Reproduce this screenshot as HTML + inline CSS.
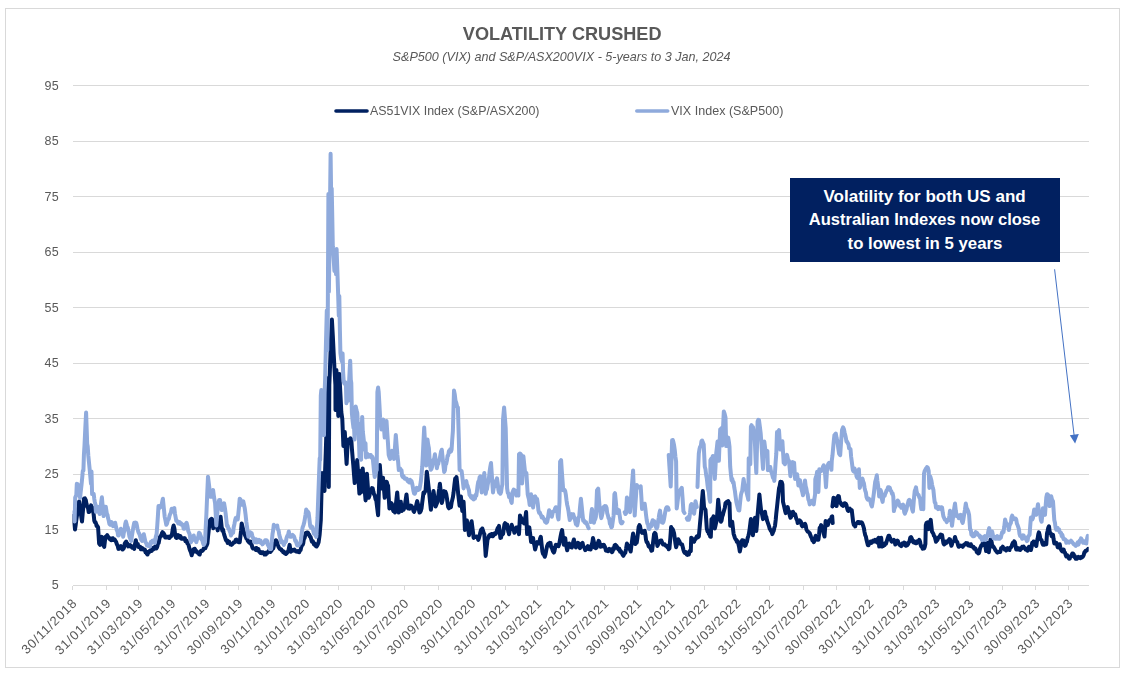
<!DOCTYPE html>
<html><head><meta charset="utf-8"><title>Volatility Crushed</title>
<style>
html,body{margin:0;padding:0;background:#fff;}
body{width:1125px;height:673px;position:relative;overflow:hidden;font-family:"Liberation Sans",sans-serif;color:#595959;}
#frame{position:absolute;left:5px;top:8px;width:1113px;height:658px;border:1px solid #d9d9d9;box-sizing:content-box;}
svg{position:absolute;left:0;top:0;}
.yl{position:absolute;left:10px;width:49.3px;text-align:right;font-size:12.5px;line-height:16px;height:16px;letter-spacing:0.5px;margin-top:0px;}
.xl{position:absolute;top:593.7px;font-size:13px;letter-spacing:0.8px;line-height:14px;white-space:nowrap;transform-origin:100% 50%;transform:translate(-100%,0) rotate(-45deg);margin-left:2px;}
#title{position:absolute;left:0;width:1125px;top:22px;text-align:center;font-weight:bold;font-size:19px;line-height:24px;}
#title span{display:inline-block;transform:scaleX(0.954);}
#sub{position:absolute;left:0;width:1123px;top:49px;text-align:center;font-style:italic;font-size:12.2px;line-height:16px;}
#sub span{display:inline-block;transform:scaleX(1.033);}
.lg{position:absolute;top:103px;font-size:12.4px;line-height:16px;white-space:nowrap;}
.lg span{display:inline-block;transform-origin:0 50%;}
#box{position:absolute;left:789.8px;top:178.2px;width:270.4px;height:84.2px;background:#002060;color:#fff;font-weight:bold;text-align:center;font-size:16.8px;line-height:23.3px;padding-top:6.8px;box-sizing:border-box;}
#box span{display:inline-block;white-space:nowrap;}#b1{transform:scaleX(1.016);}#b2{transform:scaleX(0.985);}
</style></head><body>
<div id="frame"></div>
<svg width="1125" height="673" viewBox="0 0 1125 673">
<defs><clipPath id="pc"><rect x="72.5" y="80" width="1016.2" height="510"/></clipPath></defs>
<g stroke="#d9d9d9" stroke-width="1" shape-rendering="crispEdges"><line x1="72.5" x2="1088.5" y1="85.5" y2="85.5"/><line x1="72.5" x2="1088.5" y1="141.0" y2="141.0"/><line x1="72.5" x2="1088.5" y1="196.5" y2="196.5"/><line x1="72.5" x2="1088.5" y1="252.0" y2="252.0"/><line x1="72.5" x2="1088.5" y1="307.5" y2="307.5"/><line x1="72.5" x2="1088.5" y1="363.0" y2="363.0"/><line x1="72.5" x2="1088.5" y1="418.5" y2="418.5"/><line x1="72.5" x2="1088.5" y1="474.0" y2="474.0"/><line x1="72.5" x2="1088.5" y1="529.5" y2="529.5"/><line x1="72.5" x2="1088.5" y1="585.0" y2="585.0"/><line x1="72.5" x2="72.5" y1="585.5" y2="589.5"/><line x1="106.5" x2="106.5" y1="585.5" y2="589.5"/><line x1="138.5" x2="138.5" y1="585.5" y2="589.5"/><line x1="171.5" x2="171.5" y1="585.5" y2="589.5"/><line x1="205.5" x2="205.5" y1="585.5" y2="589.5"/><line x1="238.5" x2="238.5" y1="585.5" y2="589.5"/><line x1="271.5" x2="271.5" y1="585.5" y2="589.5"/><line x1="305.5" x2="305.5" y1="585.5" y2="589.5"/><line x1="338.5" x2="338.5" y1="585.5" y2="589.5"/><line x1="371.5" x2="371.5" y1="585.5" y2="589.5"/><line x1="404.5" x2="404.5" y1="585.5" y2="589.5"/><line x1="438.5" x2="438.5" y1="585.5" y2="589.5"/><line x1="471.5" x2="471.5" y1="585.5" y2="589.5"/><line x1="505.5" x2="505.5" y1="585.5" y2="589.5"/><line x1="537.5" x2="537.5" y1="585.5" y2="589.5"/><line x1="570.5" x2="570.5" y1="585.5" y2="589.5"/><line x1="604.5" x2="604.5" y1="585.5" y2="589.5"/><line x1="637.5" x2="637.5" y1="585.5" y2="589.5"/><line x1="670.5" x2="670.5" y1="585.5" y2="589.5"/><line x1="704.5" x2="704.5" y1="585.5" y2="589.5"/><line x1="736.5" x2="736.5" y1="585.5" y2="589.5"/><line x1="769.5" x2="769.5" y1="585.5" y2="589.5"/><line x1="803.5" x2="803.5" y1="585.5" y2="589.5"/><line x1="836.5" x2="836.5" y1="585.5" y2="589.5"/><line x1="869.5" x2="869.5" y1="585.5" y2="589.5"/><line x1="903.5" x2="903.5" y1="585.5" y2="589.5"/><line x1="935.5" x2="935.5" y1="585.5" y2="589.5"/><line x1="969.5" x2="969.5" y1="585.5" y2="589.5"/><line x1="1002.5" x2="1002.5" y1="585.5" y2="589.5"/><line x1="1035.5" x2="1035.5" y1="585.5" y2="589.5"/><line x1="1068.5" x2="1068.5" y1="585.5" y2="589.5"/></g>
<g clip-path="url(#pc)">
<path d="M72.9,516.1L73.6,520.5L74.3,525.1L75.0,529.5L75.6,525.4L76.3,520.1L77.0,515.5L77.7,510.9L78.4,505.7L79.1,501.4L79.8,506.4L80.6,511.6L81.3,516.9L82.0,521.5L82.7,513.3L83.4,506.0L84.0,498.7L84.9,498.3L85.8,500.1L86.5,504.0L87.2,506.6L88.0,507.8L88.7,512.1L89.3,511.8L89.9,510.1L90.5,507.5L91.1,505.4L91.7,507.3L92.4,507.6L93.0,510.1L93.7,514.8L94.3,520.8L94.9,522.2L95.5,522.2L96.1,523.9L96.7,526.1L97.4,526.1L98.1,527.5L99.1,543.5L100.1,544.9L100.9,539.5L101.8,536.8L102.4,539.2L103.0,541.7L103.6,545.3L104.2,546.9L104.8,541.9L105.4,536.8L106.3,536.4L107.2,535.2L107.9,536.3L108.6,537.8L109.4,538.3L110.1,539.5L110.8,538.6L111.4,540.2L112.1,539.9L112.8,538.2L113.4,539.8L114.1,540.1L114.8,539.7L115.5,540.9L116.2,542.1L116.9,544.3L117.7,545.7L118.4,548.9L119.2,548.7L120.0,546.8L120.8,546.2L121.4,547.8L122.0,547.2L122.6,549.5L123.2,548.9L123.9,548.0L124.7,543.8L125.4,542.5L126.2,541.5L126.8,543.8L127.5,543.8L128.2,546.4L128.8,546.2L129.5,545.9L130.2,545.0L130.8,546.6L131.5,546.2L132.2,547.6L132.8,546.9L133.5,547.1L134.2,548.9L135.0,544.1L135.8,540.2L136.4,543.2L137.1,544.3L137.8,544.1L138.4,546.9L139.1,546.6L139.7,546.6L140.3,546.8L140.9,549.3L141.5,548.9L142.2,548.1L142.9,549.4L143.5,549.2L144.2,549.5L144.9,549.7L145.5,552.2L146.2,551.5L146.9,553.9L147.5,554.5L148.2,552.6L148.9,552.6L149.5,551.1L150.2,550.4L150.9,550.2L151.5,551.0L152.2,550.0L152.9,548.1L153.6,549.2L154.2,547.5L154.9,546.7L155.6,547.2L156.2,548.5L156.9,547.5L157.5,545.9L158.1,542.4L158.7,542.9L159.3,539.5L159.9,537.2L160.6,535.9L161.2,535.9L161.9,533.2L162.5,532.2L163.2,532.9L163.8,533.6L164.5,535.0L165.2,537.5L165.8,537.6L166.4,536.6L167.1,537.5L167.7,536.7L168.3,536.8L168.9,536.8L169.5,538.0L170.1,536.5L170.7,536.6L171.3,536.2L172.1,533.6L172.9,528.2L173.6,525.5L174.4,528.5L175.1,534.6L175.9,537.5L176.6,537.9L177.2,535.8L177.9,535.1L178.6,535.5L179.2,536.6L179.8,537.6L180.4,536.0L181.1,538.6L181.7,538.8L182.3,538.2L182.9,538.8L183.5,538.6L184.2,538.1L184.8,538.2L185.4,541.2L186.0,540.2L186.7,540.8L187.4,543.4L188.1,543.5L188.7,545.5L189.5,548.9L190.2,550.7L190.9,552.3L191.7,555.3L192.3,552.8L192.9,552.7L193.5,549.3L194.1,548.9L194.8,548.8L195.6,550.4L196.3,550.9L197.0,552.6L197.7,552.7L198.3,552.6L199.0,554.0L199.7,554.5L200.3,551.9L201.0,550.8L201.7,550.8L202.3,550.9L203.1,550.1L203.8,548.3L204.6,548.0L205.3,548.2L206.0,546.3L206.7,545.3L207.4,543.5L208.0,537.0L208.6,531.5L209.7,520.8L210.4,519.7L211.0,520.6L211.7,518.8L212.5,524.8L213.3,528.2L214.0,524.4L214.7,520.1L215.3,522.7L215.9,524.5L216.5,525.3L217.1,527.1L217.7,530.4L217.7,530.2L218.4,525.5L219.1,524.6L219.9,520.7L220.6,516.8L221.7,527.5L222.3,530.6L223.0,529.7L223.7,532.8L224.4,535.4L225.0,537.2L225.7,539.5L226.4,540.8L227.0,540.3L227.7,542.9L228.4,542.2L229.0,541.5L229.7,543.3L230.4,544.4L231.0,544.2L231.7,544.8L232.4,543.9L233.1,543.3L233.7,542.2L234.4,542.3L235.1,542.0L235.7,539.8L236.4,539.5L237.1,540.6L237.7,541.7L238.4,542.2L239.1,541.4L239.7,542.2L240.4,536.4L241.1,530.2L241.7,523.5L242.5,527.0L243.3,530.2L243.9,532.2L244.5,533.2L245.1,535.4L245.8,536.8L246.4,538.5L247.1,538.3L247.8,540.9L248.4,541.4L249.1,542.6L249.8,542.4L250.4,541.5L251.1,544.2L251.8,545.2L252.4,547.5L253.1,548.5L253.8,548.4L254.4,548.4L255.1,548.9L255.8,550.0L256.4,548.0L257.1,550.1L257.8,549.5L258.4,549.1L259.1,551.5L259.8,552.0L260.4,552.9L261.1,552.0L261.8,553.1L262.5,552.4L263.1,552.2L263.8,553.1L264.5,554.5L265.1,553.2L265.8,554.5L266.5,552.4L267.1,552.5L267.8,552.8L268.5,551.5L269.1,550.4L269.8,550.1L270.5,551.9L271.2,550.9L271.8,550.2L272.5,548.7L273.2,548.6L273.8,546.2L274.5,543.7L275.2,542.7L275.8,540.2L276.5,540.9L277.2,543.1L277.8,544.9L278.5,546.7L279.2,548.0L279.8,548.9L280.5,548.9L281.2,549.4L281.8,550.8L282.5,550.9L283.2,552.2L283.9,551.6L284.5,553.1L285.2,553.6L285.9,554.0L286.5,553.5L287.2,552.6L287.9,551.5L288.7,549.5L289.6,544.9L290.7,551.8L291.3,550.9L292.0,550.2L292.6,550.7L293.2,549.9L293.9,550.2L294.5,549.7L295.2,550.6L295.9,551.5L296.6,551.5L297.2,551.8L297.9,551.0L298.6,552.1L299.2,552.2L299.9,550.4L300.6,550.2L301.2,547.2L301.9,545.3L302.6,544.9L303.2,543.5L303.9,538.8L304.6,538.2L305.2,535.4L305.9,532.8L306.6,532.6L307.2,534.3L307.9,532.5L308.6,534.2L309.2,534.5L309.9,536.7L310.6,536.9L311.3,539.5L311.9,541.6L312.6,541.1L313.3,542.0L313.9,544.2L314.6,543.5L315.3,545.7L315.9,545.8L316.6,546.5L317.3,545.4L317.9,544.1L318.6,542.2L319.6,535.0L320.8,520.0L322.0,473.0L322.6,477.9L323.2,482.6L323.9,486.8L324.5,491.0L325.1,470.9L325.8,451.6L326.4,432.0L327.4,405.0L328.3,378.0L328.8,487.0L329.3,385.0L330.0,367.1L330.6,350.0L331.2,334.1L331.9,319.5L332.8,335.7L333.6,352.0L334.5,368.8L335.4,385.0L335.5,410.0L336.4,370.0L337.0,384.9L337.7,400.3L338.3,416.0L339.4,374.0L340.0,386.5L340.7,399.6L341.3,412.0L342.3,419.0L343.4,446.0L344.1,439.0L344.8,432.0L345.4,442.8L346.0,453.7L346.6,464.0L347.8,440.0L348.5,439.6L349.2,440.5L349.9,440.7L350.6,438.3L351.3,439.3L351.9,448.7L352.6,457.2L353.3,465.1L354.0,474.3L354.7,483.1L355.3,477.6L355.9,472.2L356.6,465.7L357.2,460.1L358.0,471.4L358.7,482.9L359.4,493.6L360.0,471.0L361.1,492.4L361.9,480.8L362.7,468.4L363.4,477.0L364.1,484.4L364.9,492.6L365.6,500.4L366.3,486.7L366.9,473.7L367.8,486.1L368.7,497.8L369.4,496.0L370.0,492.8L370.7,489.8L371.4,489.9L372.0,488.1L372.7,488.4L373.4,491.8L374.0,494.2L374.7,495.1L375.5,499.1L376.3,500.4L377.2,507.9L378.1,515.2L378.9,490.5L379.8,465.0L380.6,476.5L381.4,488.4L382.2,483.6L383.0,477.7L383.9,488.3L384.7,497.8L385.4,489.5L386.1,481.7L386.7,481.9L387.4,484.2L388.1,485.8L388.7,497.2L389.4,508.5L390.1,507.4L390.8,504.9L391.4,503.1L392.1,504.5L392.8,509.3L393.4,511.1L394.2,510.6L395.0,512.5L395.7,506.2L396.5,498.7L397.2,492.4L398.0,502.2L398.8,512.5L399.4,509.7L400.1,504.4L400.8,501.8L401.7,511.1L402.3,509.5L402.9,509.9L403.5,509.8L404.1,508.5L404.9,504.8L405.7,499.7L406.5,494.4L407.3,502.1L408.1,508.5L408.8,507.9L409.5,508.7L410.1,505.7L410.8,505.6L411.5,505.8L412.1,507.4L412.8,508.2L413.5,511.0L414.1,511.8L414.8,510.1L415.4,507.6L416.0,506.4L416.6,503.4L417.2,501.1L418.0,504.4L418.7,508.4L419.5,512.5L420.2,512.1L420.8,510.9L421.5,508.5L422.2,502.7L422.8,498.3L423.5,492.4L424.2,493.3L424.8,491.6L425.5,491.1L426.2,481.5L426.8,471.7L427.5,477.3L428.2,483.8L428.9,489.8L429.5,496.4L430.2,503.3L430.9,509.8L431.5,504.5L432.2,501.1L432.9,495.8L433.5,491.1L434.2,496.1L434.9,501.8L435.5,506.5L436.2,505.1L436.9,503.3L437.5,501.8L438.1,497.5L438.7,492.2L439.3,488.3L439.9,483.7L440.6,490.1L441.2,497.3L441.8,503.1L442.5,500.3L443.2,494.5L444.0,491.1L444.7,491.9L445.5,491.8L446.2,493.8L446.9,498.1L447.6,503.1L448.2,507.1L448.9,508.3L449.6,507.1L450.2,506.6L450.9,507.1L451.6,502.6L452.2,500.1L452.9,497.3L453.6,492.4L454.4,484.9L455.2,478.4L455.9,478.5L456.5,477.1L457.4,485.4L458.3,495.1L458.9,500.0L459.6,505.8L460.3,500.7L460.9,496.4L461.6,504.1L462.3,511.1L462.9,506.2L463.6,501.8L464.3,515.6L464.9,529.9L465.6,527.1L466.3,522.5L466.9,520.5L467.6,525.7L468.3,529.8L469.0,535.2L469.6,531.7L470.3,527.5L471.0,523.8L471.6,521.2L472.3,526.8L473.0,532.2L473.6,537.9L474.3,537.2L475.0,537.0L475.6,537.0L476.3,536.5L477.0,536.7L477.6,537.9L478.3,539.9L479.0,537.8L479.7,535.3L480.3,532.5L481.0,529.9L481.7,530.2L482.3,528.5L483.0,530.6L483.7,533.1L484.3,533.9L485.0,544.5L485.7,555.9L486.3,550.3L487.0,544.3L487.7,537.9L488.3,538.2L489.0,535.7L489.7,534.9L490.4,534.5L491.0,535.9L491.7,534.0L492.4,536.3L493.0,536.2L493.7,535.2L494.4,533.5L495.0,533.1L495.7,533.8L496.4,532.5L497.0,530.2L497.7,528.1L498.4,528.5L499.0,525.9L499.7,531.8L500.4,537.9L501.0,537.7L501.7,534.8L502.4,534.6L503.1,533.9L503.7,529.5L504.4,524.5L505.1,523.2L505.7,523.7L506.4,525.0L507.1,524.5L507.7,528.8L508.4,532.1L509.1,533.9L509.0,534.1L509.7,530.7L510.3,529.5L511.0,527.8L511.7,524.8L512.4,526.8L513.0,529.3L513.7,529.9L514.4,532.8L515.0,530.2L515.7,529.0L516.4,527.5L517.0,527.4L517.7,529.8L518.4,531.9L519.0,534.1L520.0,515.4L520.6,517.3L521.2,517.8L521.8,519.5L522.4,522.1L523.2,521.9L524.0,523.4L524.7,520.6L525.4,517.2L526.1,512.1L527.1,534.1L527.8,533.1L528.6,528.5L529.3,527.4L530.2,534.2L531.1,542.1L531.7,542.1L532.4,539.4L533.1,538.1L533.7,542.7L534.4,545.2L535.1,549.5L535.8,546.9L536.4,544.6L537.1,542.1L537.8,542.4L538.4,543.3L539.1,543.5L540.0,538.8L540.8,536.8L541.6,544.4L542.4,551.5L543.0,553.8L543.6,553.3L544.2,555.4L544.8,556.8L545.6,553.9L546.4,549.4L547.1,546.1L547.8,544.5L548.5,543.5L549.1,543.7L549.8,542.8L550.5,543.0L551.1,547.0L551.8,547.5L552.5,550.0L553.1,551.4L553.8,552.6L554.5,551.0L555.1,547.8L555.8,544.8L556.5,544.9L557.1,545.8L557.8,545.8L558.5,546.1L559.1,544.4L559.8,540.8L560.5,536.8L561.3,532.8L562.1,530.1L563.0,538.0L563.8,544.8L564.5,542.2L565.2,538.1L565.8,542.9L566.5,547.0L567.2,550.2L567.8,547.7L568.5,546.8L569.2,543.5L569.8,545.5L570.5,546.0L571.2,547.2L571.8,547.5L572.5,545.6L573.2,541.9L573.9,539.5L574.5,542.8L575.2,543.6L575.9,547.5L576.5,545.5L577.2,544.3L577.9,542.8L578.5,543.2L579.2,546.0L579.9,548.2L580.5,547.2L581.2,545.8L581.9,543.4L582.5,542.8L583.2,545.9L583.9,547.0L584.5,547.9L585.2,550.2L585.9,549.6L586.5,548.3L587.2,547.2L587.9,546.1L588.6,546.7L589.2,549.2L589.9,549.1L590.6,549.5L591.2,547.2L591.8,544.5L592.4,542.3L593.0,538.1L593.8,541.5L594.6,547.5L595.2,547.8L595.9,548.2L596.6,547.5L597.2,544.6L597.9,542.8L598.6,540.8L599.2,541.5L599.9,544.0L600.6,546.8L601.3,546.1L601.9,544.9L602.6,544.9L603.3,546.3L603.9,544.8L604.6,546.5L605.3,547.8L605.9,550.6L606.6,550.8L607.3,550.5L607.9,551.2L608.6,549.7L609.3,548.8L609.9,550.5L610.6,549.3L611.3,551.6L612.0,552.2L612.6,551.4L613.3,548.0L614.0,549.0L614.6,545.3L615.3,544.8L616.0,545.7L616.6,545.9L617.3,547.8L618.0,548.8L618.6,549.6L619.3,548.6L620.0,551.6L620.6,550.8L621.3,551.8L622.0,553.4L622.7,554.8L623.3,555.8L624.0,554.4L624.7,553.2L625.3,552.8L626.1,548.6L626.9,543.5L627.5,545.0L628.1,545.5L628.7,548.1L629.3,548.8L630.0,549.6L630.7,551.5L631.3,546.3L631.9,542.1L632.5,537.3L633.1,533.5L633.9,538.0L634.7,543.5L635.3,544.0L636.0,542.7L636.7,542.8L637.4,538.0L638.0,532.5L638.7,526.8L639.4,525.2L640.0,526.1L640.7,529.7L641.4,531.8L642.0,532.8L642.7,531.1L643.4,532.9L644.0,531.1L644.7,530.8L645.4,534.5L646.0,539.7L646.7,542.1L647.4,542.4L648.0,544.2L648.7,546.4L649.4,546.1L650.1,547.8L650.7,548.2L651.4,550.7L652.1,550.4L652.7,545.4L653.4,539.7L654.1,534.1L654.8,532.9L655.6,533.8L656.5,540.0L657.4,545.9L658.0,544.7L658.7,542.9L659.4,541.4L660.0,541.7L660.7,540.5L661.4,540.5L662.0,542.4L662.7,544.0L663.4,544.5L664.0,544.7L664.7,544.4L665.4,545.6L666.0,545.4L666.7,545.9L667.4,547.3L668.0,547.3L668.7,549.3L669.4,548.5L670.3,538.5L671.1,527.1L671.9,529.1L672.6,529.1L673.4,531.1L674.1,533.4L674.7,537.8L675.4,543.1L676.1,547.2L676.7,545.3L677.4,542.2L678.1,539.2L678.7,540.1L679.4,541.2L680.1,543.2L680.8,544.1L681.4,544.3L682.1,544.5L682.8,547.2L683.4,549.8L684.1,551.9L684.8,553.0L685.4,551.8L686.1,552.3L686.8,554.7L687.4,554.9L688.1,554.1L688.8,554.5L689.4,551.4L690.1,550.7L690.8,551.2L691.2,537.8L691.9,538.2L692.6,539.6L693.4,541.2L694.1,541.8L694.8,539.4L695.5,539.3L696.1,537.8L696.8,536.3L697.5,536.0L698.1,537.3L698.8,536.5L699.5,529.4L700.1,522.4L700.8,515.1L701.5,506.9L702.1,499.0L702.8,491.0L703.5,499.3L704.1,508.4L704.8,508.7L705.5,509.8L706.2,519.5L706.8,528.5L707.5,531.2L708.2,530.8L708.8,533.8L709.5,533.7L710.2,536.6L710.8,536.8L711.5,519.1L712.2,518.6L712.8,518.1L713.5,516.4L714.2,522.1L714.8,528.5L715.5,525.6L716.2,522.4L716.8,520.5L717.5,510.5L718.2,499.7L718.8,505.9L719.5,512.4L720.2,517.3L720.9,521.8L721.5,520.8L722.2,516.6L722.9,514.9L723.5,512.4L724.2,510.0L724.9,507.4L725.5,503.1L726.2,502.4L726.9,501.8L727.5,501.7L728.2,501.1L728.9,503.7L729.5,503.1L730.2,525.8L730.9,523.3L731.6,522.0L732.2,521.8L732.9,527.9L733.6,533.8L734.2,535.6L734.9,537.9L735.6,539.2L736.2,539.6L736.9,541.9L737.6,541.0L738.2,543.2L739.0,546.5L739.8,551.5L740.7,547.1L741.6,541.8L742.2,540.2L742.9,540.4L743.6,540.5L744.2,543.8L744.9,545.9L745.6,545.1L746.3,542.6L746.9,541.8L747.6,538.2L748.3,536.1L748.9,533.8L749.6,529.2L750.3,523.8L750.9,519.1L751.6,523.9L752.3,530.1L752.9,535.2L753.6,529.5L754.3,524.2L755.0,517.8L755.6,525.1L756.3,531.1L757.0,523.7L757.6,515.1L758.5,504.7L759.4,494.4L760.2,502.5L761.0,509.8L761.6,512.3L762.3,515.5L763.0,519.1L763.6,516.4L764.3,515.4L765.0,511.8L765.6,515.8L766.3,516.8L767.0,520.5L767.6,522.1L768.3,524.1L769.0,526.1L769.6,528.5L770.3,529.6L771.0,531.0L771.7,531.8L772.3,534.1L773.0,532.2L773.7,530.8L774.3,528.0L775.0,525.8L775.7,520.0L776.3,513.4L777.0,507.1L777.7,500.4L778.3,495.0L779.0,488.4L779.7,486.1L780.4,481.7L781.0,482.0L781.7,482.1L782.4,484.4L783.0,501.7L783.7,504.6L784.4,507.5L785.0,510.4L785.7,513.1L786.4,512.4L787.0,509.5L787.7,507.1L788.4,510.6L789.0,511.2L789.7,515.2L790.4,517.8L791.0,517.1L791.7,513.6L792.4,512.1L793.0,511.8L793.7,513.6L794.4,515.2L795.1,514.1L795.7,516.4L796.4,519.0L797.1,519.9L797.7,523.1L797.7,521.1L798.3,521.8L799.0,521.5L799.7,520.4L800.4,521.1L801.0,522.1L801.7,525.4L802.4,526.4L803.0,525.8L803.7,525.8L804.4,524.1L805.0,523.8L805.7,525.5L806.4,529.5L807.0,530.5L807.7,531.6L808.4,531.8L809.0,532.6L809.7,533.1L810.4,535.3L811.0,536.8L811.7,537.8L812.4,540.4L813.1,540.5L813.7,542.2L814.4,541.0L815.1,538.4L815.7,535.8L816.4,537.8L817.1,538.7L817.7,539.7L818.4,539.8L819.1,534.3L819.7,527.8L820.4,527.7L821.1,525.1L821.7,527.3L822.4,528.7L823.1,530.5L823.8,534.0L824.5,536.5L825.6,521.1L826.3,523.3L827.0,523.6L827.8,525.1L828.4,523.1L829.1,520.6L829.8,519.8L830.4,519.6L831.0,519.5L831.6,516.9L832.2,516.4L832.7,523.1M832.4,506.4L833.5,497.8L834.6,505.1L835.5,498.4L836.6,506.1L837.6,497.3L838.2,496.0L838.9,496.5L839.8,502.4L840.5,502.4L841.1,503.9L841.8,505.1L842.5,504.2L843.1,505.9L843.8,504.4L844.5,503.3L845.1,504.2L845.8,503.8L846.5,505.1L847.1,508.1L847.8,510.4L848.5,511.0L849.1,509.2L849.8,508.7L850.5,509.7L851.2,509.9L851.8,510.4L852.5,516.5L853.2,522.4L853.8,524.9L854.5,523.8L855.2,526.4L855.8,524.2L856.5,523.3L857.2,523.1L857.8,522.1L858.5,522.0L859.2,523.2L859.8,522.4L860.5,523.0L861.2,522.3L861.8,522.6L862.5,523.8L863.2,525.8L863.9,528.2L864.5,531.8L865.2,535.2L865.9,536.6L866.5,539.8L867.2,542.6L867.9,545.2L868.5,545.2L869.2,543.3L869.9,542.5L870.5,541.5L871.2,542.9L871.9,542.6L872.5,541.1L873.2,540.4L873.9,540.6L874.5,541.4L875.2,539.8L875.9,540.7L876.6,540.8L877.2,542.5L877.9,538.9L878.6,537.8L879.2,546.5L879.9,544.9L880.6,541.6L881.2,537.8L881.9,546.5L882.6,545.8L883.2,545.9L883.9,545.5L884.6,545.2L885.2,543.2L885.9,543.9L886.6,541.6L887.2,539.8L887.9,537.7L888.6,535.8L889.2,535.8L889.9,537.5L890.6,539.0L891.3,541.1L891.9,541.6L892.6,541.1L893.3,540.4L893.9,539.8L894.6,541.2L895.3,544.5L895.9,542.2L896.6,541.3L897.3,540.5L897.9,541.0L898.6,543.9L899.3,544.0L900.0,545.2L900.6,545.3L901.3,546.1L902.0,544.5L902.6,543.2L903.3,543.3L904.0,542.5L904.6,542.6L905.3,545.5L906.0,545.8L906.6,543.6L907.3,545.1L908.0,544.3L908.6,542.5L909.4,541.6L910.2,537.8L911.0,537.1L911.8,538.5L912.6,541.1L913.3,542.3L914.0,541.0L914.7,542.6L915.3,543.2L916.0,542.4L916.7,543.1L917.3,541.1L918.0,540.9L918.7,541.3L919.3,539.8L920.0,541.5L920.7,545.1L921.3,546.5L922.0,546.8L922.7,548.7L923.3,546.9L924.0,548.5L924.7,547.1L925.4,543.8L925.8,525.1L926.5,523.0L927.4,522.4L928.0,525.9L928.7,529.1L929.4,526.1L930.0,521.9L930.7,519.8L931.4,526.2L932.0,531.8L932.7,532.6L933.4,533.9L934.0,535.8L934.7,536.6L935.4,539.3L936.0,541.8L936.7,540.6L937.4,540.2L938.0,538.5L938.7,537.2L939.4,537.2L940.0,535.8L940.7,534.5L941.4,535.1L942.1,535.1L942.7,539.0L943.4,543.2L944.1,544.4L944.7,544.0L945.4,543.4L946.0,541.5L946.7,542.8L947.4,541.6L948.0,541.6L948.7,540.2L949.4,539.1L950.0,539.5L950.7,542.8L951.4,545.8L952.0,544.2L952.7,541.6L953.4,541.5L954.2,540.6L955.0,537.0L955.8,540.1L956.7,541.5L957.4,542.5L958.1,545.4L958.7,546.8L959.4,545.8L960.1,545.6L960.7,545.5L961.4,546.1L962.1,545.8L962.7,546.8L963.4,545.5L964.1,544.8L964.7,544.2L965.4,544.4L966.1,543.0L966.7,543.5L967.4,543.3L968.1,545.5L968.7,545.5L969.4,544.6L970.1,545.9L970.8,544.2L971.4,545.2L972.1,546.6L972.8,546.8L973.4,546.8L974.1,548.6L974.8,548.2L975.4,548.4L976.1,549.8L976.8,552.2L977.4,551.4L978.1,553.4L978.8,553.3L979.4,551.7L980.1,548.1L980.8,546.8L981.4,545.2L982.1,545.1L982.8,542.8L983.4,543.5L984.1,542.6L984.8,544.2L985.5,546.9L986.1,551.1L986.8,546.5L987.5,542.8L988.1,547.0L988.8,552.2L989.7,545.8L990.5,539.6L991.3,540.7L992.1,544.2L992.8,546.7L993.5,546.8L994.1,547.6L994.8,548.9L995.5,550.3L996.1,550.9L996.8,552.1L997.5,552.6L998.2,552.2L998.8,551.8L999.5,551.5L1000.2,551.9L1001.2,547.9L1002.0,547.8L1002.7,546.7L1003.5,548.2L1004.2,548.3L1004.8,549.6L1005.5,549.5L1006.2,550.4L1006.8,549.4L1007.5,548.2L1008.2,549.3L1008.9,549.7L1009.5,550.0L1010.2,547.6L1010.9,547.4L1011.5,546.8L1012.2,544.4L1012.9,542.8L1013.5,543.1L1014.2,541.4L1014.9,542.3L1015.5,545.6L1016.2,549.5L1016.9,549.1L1017.5,549.4L1018.2,548.2L1018.9,549.7L1019.5,549.7L1020.2,550.0L1020.9,548.0L1021.6,548.7L1022.2,546.8L1022.9,547.8L1023.6,546.6L1024.2,547.7L1024.9,548.1L1025.6,549.5L1026.2,549.9L1026.9,549.2L1027.6,550.6L1028.2,549.3L1028.9,546.8L1029.6,549.3L1030.2,549.0L1030.9,550.0L1031.6,547.0L1032.2,542.8L1032.9,543.5L1033.6,541.5L1034.2,542.2L1034.9,544.7L1035.6,545.1L1036.3,546.0L1036.9,541.6L1037.6,538.8L1038.3,534.4L1038.9,532.3L1039.6,534.8L1040.3,538.8L1040.9,539.7L1041.6,540.2L1042.3,543.0L1042.9,544.7L1043.6,543.6L1044.3,544.7L1045.0,542.8L1045.6,543.1L1046.3,544.2L1047.0,533.5L1047.6,531.0L1048.3,527.6L1049.0,526.3L1049.6,531.2L1050.3,533.5L1051.0,533.8L1051.6,536.1L1052.3,536.6L1053.0,534.8L1053.6,539.2L1054.3,543.4L1055.0,543.4L1055.6,543.2L1056.3,542.8L1057.0,544.4L1057.7,547.4L1058.3,547.5L1059.0,546.6L1059.7,544.2L1060.3,547.7L1061.0,549.5L1061.7,550.8L1062.3,551.5L1063.0,549.5L1063.7,549.5L1064.3,552.2L1065.0,552.5L1065.7,554.9L1066.3,556.4L1067.0,555.0L1067.7,556.2L1068.3,557.2L1069.0,558.7L1069.7,558.6L1070.3,556.5L1071.0,556.3L1071.7,554.9L1072.3,553.5L1073.0,553.5L1073.7,554.4L1074.4,556.9L1075.0,556.2L1075.7,558.7L1076.4,557.5L1077.0,558.7L1077.7,557.8L1078.4,556.8L1079.0,557.3L1079.7,557.8L1080.4,558.1L1081.0,557.1L1081.7,557.5L1082.4,556.9L1083.0,556.6L1083.7,554.9L1084.4,552.2L1085.0,552.2L1085.7,550.7L1086.4,550.8L1087.1,550.2L1088.1,548.9" fill="none" stroke="#002060" stroke-width="4" stroke-linejoin="round" stroke-linecap="round"/>
<path d="M73.0,512.5L73.8,516.3L74.6,521.5L75.2,497.6L76.3,495.1L76.8,483.8L77.6,484.1L78.5,487.1L79.0,492.0L79.5,493.6L80.1,498.1L80.6,492.7L81.5,485.0L82.3,476.7L82.8,470.8L83.4,470.8L83.9,455.2L84.5,445.6L85.3,428.3L86.1,412.6L87.2,444.0L87.7,446.5L88.3,455.5L89.1,463.6L89.9,471.7L91.0,483.9L91.5,471.5L92.1,494.1L92.9,493.5L93.7,494.0L94.3,499.1L94.8,501.9L95.4,504.5L95.9,511.8L96.7,507.7L97.6,506.9L98.1,509.5L98.7,507.1L99.2,512.5L99.7,514.0L100.5,508.4L101.2,502.0L101.9,497.3L102.5,504.4L103.0,507.9L103.6,516.1L104.3,512.7L105.1,508.2L105.8,506.8L106.9,514.1L107.5,514.8L108.1,518.3L108.8,520.8L109.4,524.0L110.1,524.8L110.8,521.9L111.4,521.9L112.2,523.0L113.0,526.1L113.8,525.5L114.5,525.6L115.2,522.8L116.0,526.8L116.8,530.2L117.5,531.6L118.1,535.5L118.8,535.5L119.5,531.6L120.1,532.4L120.8,528.8L121.4,530.0L122.0,531.5L122.6,533.4L123.2,536.8L123.9,532.3L124.5,530.4L125.2,524.1L125.9,521.5L126.5,523.8L127.1,526.0L127.8,527.5L128.6,531.7L129.5,536.8L130.4,539.0L131.2,540.9L132.0,535.5L132.7,531.0L133.4,526.8L134.2,522.8L134.8,523.5L135.5,522.5L136.2,522.8L136.8,525.0L137.5,528.9L138.2,531.5L138.8,533.1L139.5,534.3L140.2,536.8L140.9,539.3L141.5,540.3L142.2,540.9L143.0,536.5L143.8,534.2L144.7,538.5L145.5,542.2L146.2,543.2L146.9,545.4L147.5,544.9L148.2,546.0L148.9,544.5L149.6,545.5L150.2,546.2L150.9,541.7L151.6,541.7L152.2,540.9L152.9,542.3L153.6,540.5L154.2,542.3L154.9,542.9L155.8,536.8L156.6,534.2L157.3,525.1L157.9,516.0L158.5,506.1L159.1,506.5L159.7,507.9L160.3,505.9L160.9,506.8L161.6,504.8L162.2,501.8L162.9,498.7L163.8,507.9L164.7,516.8L165.5,520.6L166.3,524.8L167.1,523.4L168.0,519.5L168.8,519.1L169.6,515.5L170.3,513.7L170.9,512.7L171.6,508.8L172.3,508.8L172.9,509.3L173.6,508.9L174.3,508.1L174.9,513.3L175.6,517.2L176.3,520.8L176.9,520.7L177.6,521.7L178.3,523.5L179.0,523.5L179.6,522.0L180.3,524.0L181.0,523.2L181.6,524.8L182.3,524.4L183.0,525.1L183.6,528.8L184.3,528.8L185.1,525.4L185.8,523.9L186.6,522.8L187.4,525.7L188.2,530.9L189.0,532.8L189.7,534.4L190.3,538.9L191.0,542.2L191.7,540.7L192.3,540.3L193.0,538.4L193.7,535.5L194.3,538.6L195.0,538.0L195.7,540.2L196.3,542.2L197.0,539.3L197.7,539.0L198.3,536.9L199.0,532.8L199.7,533.2L200.3,534.9L201.0,536.8L201.7,539.5L202.3,540.3L203.0,543.0L203.7,544.9L204.4,543.9L205.0,542.2L205.7,527.7L206.4,514.1L207.2,494.5L208.0,476.7L208.6,481.5L209.2,486.5L209.8,491.9L210.4,496.7L211.0,496.8L211.7,494.1L212.4,491.8L213.1,490.1L213.7,494.7L214.4,499.3L215.1,503.4L215.7,513.6L216.3,525.5L216.9,518.6L217.6,510.1L218.3,505.6L219.1,500.1L220.1,500.1L220.9,505.8L221.7,510.1L222.3,509.6L222.9,506.4L223.5,504.7L224.1,503.4L224.9,508.0L225.7,514.1L226.4,520.4L227.0,526.1L227.7,525.8L228.4,528.8L229.0,528.8L229.7,531.1L230.4,532.6L231.0,535.5L231.7,534.0L232.4,532.0L233.1,532.8L233.7,527.3L234.4,524.2L235.1,520.3L235.7,518.1L236.4,518.1L237.1,517.2L237.7,519.5L238.4,513.3L239.1,505.9L239.7,498.7L240.4,499.4L241.1,501.8L241.7,504.8L242.5,502.5L243.3,501.4L244.1,505.1L244.8,508.5L245.5,514.1L246.3,521.5L247.1,527.5L247.8,533.1L248.4,536.8L249.0,535.7L249.6,534.8L250.2,532.3L250.8,532.8L251.6,533.1L252.3,535.8L253.1,538.2L253.8,538.6L254.4,542.1L255.1,542.2L255.8,540.4L256.4,539.4L257.1,542.4L257.8,540.2L258.4,540.8L259.1,539.9L259.8,542.0L260.5,540.5L261.1,542.9L261.8,542.8L262.5,544.3L263.1,543.7L263.8,542.2L264.5,542.4L265.1,540.3L265.8,540.2L266.5,540.2L267.1,540.8L267.8,544.9L268.5,545.8L269.1,547.5L269.8,549.0L270.5,547.8L271.1,548.9L271.8,541.0L272.5,534.2L273.2,530.1L273.8,524.8L274.5,526.8L275.2,526.4L275.8,526.4L276.5,526.6L277.2,525.5L277.8,529.3L278.5,530.2L279.2,534.2L279.8,536.9L280.5,539.0L281.2,542.2L281.8,541.1L282.5,541.7L283.2,543.4L283.9,544.9L284.5,542.3L285.2,542.3L285.9,541.6L286.5,538.2L287.3,535.8L288.0,535.4L288.8,531.5L289.5,535.1L290.2,536.8L290.9,536.8L291.7,535.9L292.5,534.9L293.2,535.5L293.9,536.3L294.5,537.9L295.2,540.9L295.9,540.7L296.5,543.3L297.2,545.4L297.9,544.9L298.6,545.5L299.2,543.5L299.9,543.4L300.6,542.2L301.2,537.9L301.9,531.6L302.6,527.5L303.4,525.4L304.3,522.1L304.9,518.7L305.6,514.2L306.2,509.4L307.0,511.5L307.8,511.6L308.6,512.8L309.4,518.9L310.2,526.1L311.0,527.7L311.8,526.4L312.6,527.5L313.3,530.9L313.9,533.7L314.6,534.2L315.5,535.1L316.3,536.8L317.5,518.0L318.3,495.7L319.1,473.8L319.7,458.2L320.2,459.8L320.8,395.4L321.3,390.1L322.1,409.6L322.9,427.3L323.5,408.4L324.0,435.2L324.6,392.9L325.1,380.0L325.9,345.7L326.8,310.5L327.3,350.2L327.8,313.6L328.4,193.9L328.9,291.8L329.8,222.2L330.6,153.8L331.1,191.4L331.7,188.4L332.2,213.2L332.8,246.2L333.6,257.9L334.4,270.9L334.9,270.5L335.5,257.8L336.0,274.2L336.6,249.0L337.4,271.8L338.2,296.0L338.8,315.6L339.3,296.1L339.9,330.2L340.4,353.0L341.2,358.9L342.0,361.7L342.6,353.6L343.1,372.2L343.7,381.5L344.4,383.6L345.1,382.0L345.9,384.3L346.4,403.2L346.9,386.1L347.5,390.1L348.0,401.0L348.9,385.9L349.7,369.5L350.2,360.7L350.8,379.8L351.3,383.1L351.9,413.3L352.7,421.6L353.5,428.0L354.0,426.4L354.6,439.4L355.1,423.2L355.7,406.4L356.5,410.3L357.3,413.1L357.9,426.2L358.4,423.4L358.9,438.3L359.5,457.5L360.3,458.0L361.1,459.7L361.7,429.4L362.2,416.9L362.8,431.8L363.3,435.8L364.1,443.0L364.9,450.1L365.5,443.3L366.0,457.4L366.7,455.2L367.3,453.9L368.0,454.9L368.7,456.7L369.4,455.5L370.0,455.0L370.7,454.9L371.4,457.4L372.0,456.4L372.7,457.5L373.4,464.7L374.0,471.2L374.7,477.1L375.4,473.6L376.0,471.4L376.7,470.0L377.4,392.0L378.1,387.5L378.7,392.0L379.4,404.3L380.1,417.4L380.7,423.0L381.4,429.5L382.1,426.5L382.7,422.0L383.4,419.6L384.0,428.4L384.7,437.5L385.3,431.3L385.9,427.2L386.5,420.9L387.2,432.0L388.0,443.5L388.7,454.9L389.4,457.2L390.1,458.9L390.8,457.8L391.4,453.3L392.1,450.9L392.8,455.2L393.4,456.2L394.1,458.9L395.0,447.0L395.8,435.0L396.6,445.0L397.4,454.9L398.1,461.5L398.8,470.0L399.5,469.7L400.1,468.6L400.8,469.7L401.5,470.3L402.1,475.8L402.8,477.1L403.5,476.1L404.1,477.5L404.8,478.7L405.4,478.4L406.1,478.4L406.8,478.8L407.4,480.7L408.1,481.7L408.8,481.8L409.5,482.5L410.1,479.8L410.8,481.4L411.5,481.1L412.2,483.5L412.8,486.9L413.5,491.1L414.1,493.5L414.8,493.8L415.5,491.8L416.1,490.0L416.8,487.8L417.5,489.1L418.1,490.0L418.8,488.6L419.5,489.1L420.1,485.8L420.8,481.7L421.5,474.4L422.2,467.0L422.9,453.9L423.5,441.1L424.2,427.6L424.9,440.2L425.5,453.0L426.2,465.6L426.9,452.6L427.5,439.6L428.2,444.7L428.9,448.2L429.5,457.9L430.2,466.9L430.9,469.7L431.6,468.6L432.2,466.2L432.9,461.1L433.6,459.7L434.2,458.6L434.9,454.3L435.6,459.6L436.2,462.9L436.9,468.2L437.5,464.8L438.2,464.0L438.9,460.6L439.5,460.2L440.3,455.7L441.0,451.6L441.8,449.7L442.6,457.5L443.4,465.1L444.2,472.0L444.9,470.5L445.5,464.7L446.2,463.8L446.9,460.6L447.6,455.6L448.2,455.5L448.9,451.0L449.6,452.5L450.2,449.3L450.9,451.7L451.6,449.7L452.2,440.1L452.9,430.8L454.0,390.6L454.8,394.7L455.5,400.7L456.3,402.9L457.1,406.5L457.9,407.5L458.8,438.1L459.6,470.0L460.3,470.1L460.9,470.7L461.6,471.0L462.3,476.5L462.9,482.0L463.6,488.4L464.3,485.5L464.9,484.8L465.6,481.7L466.3,481.2L466.9,484.6L467.6,485.7L468.3,488.6L468.9,490.1L469.6,495.1L470.3,495.3L471.0,497.2L471.6,497.6L472.3,498.4L473.0,496.3L473.6,499.4L474.3,498.2L475.0,498.5L475.6,494.7L476.3,495.8L477.0,490.7L477.6,485.5L478.3,481.7L479.0,481.0L479.6,477.3L480.3,476.4L481.0,483.7L481.7,492.4L482.4,487.4L483.0,483.5L483.6,478.5L484.3,473.0L485.0,482.9L485.7,493.8L486.4,489.4L487.0,489.3L487.6,485.0L488.3,481.7L489.0,477.4L489.6,471.6L490.3,466.8L491.0,463.0L491.7,473.2L492.3,482.5L493.0,492.4L493.7,487.2L494.3,486.9L495.0,481.7L495.7,481.1L496.3,480.6L497.0,478.4L497.7,483.3L498.4,489.8L499.1,492.5L499.7,490.8L500.4,493.8L501.1,492.0L501.7,487.4L502.4,484.4L503.0,420.0L504.1,407.5L504.9,417.5L505.7,428.1L506.4,458.4L507.1,488.4L507.8,492.9L508.4,493.3L509.1,497.1L509.7,496.8L510.4,497.4L511.0,501.0L511.7,502.9L512.4,492.8L513.1,490.9L513.7,489.6L514.4,490.2L515.1,490.7L515.7,492.0L516.4,495.5L517.1,494.4L517.7,494.8L518.4,495.5L519.0,454.1L520.0,453.5L520.9,454.4L521.7,456.7L522.1,483.5L522.8,470.3L523.4,456.2L524.2,464.1L525.1,472.8L525.8,472.9L526.4,472.9L527.0,482.9L527.7,494.2L528.4,497.2L529.0,499.5L529.7,504.9L530.4,499.1L531.1,494.3L531.8,497.8L532.4,503.5L533.1,507.5L533.8,502.3L534.4,497.0L535.1,496.3L535.8,497.9L536.4,500.2L537.1,499.0L537.8,503.9L538.4,510.2L539.1,512.7L539.8,512.5L540.4,514.1L541.1,515.4L541.8,517.5L542.5,516.6L543.1,517.9L543.8,518.7L544.5,520.1L545.1,521.9L545.8,520.1L546.4,522.7L547.1,522.1L547.8,518.9L548.4,514.7L549.1,510.2L549.8,511.5L550.5,512.9L551.1,513.4L551.8,516.7L552.5,513.5L553.1,511.5L553.8,511.4L554.5,511.3L555.1,508.5L555.8,507.2L556.5,507.5L557.2,509.9L557.8,516.7L558.5,519.4L559.5,502.2L560.1,461.6L561.1,460.2L561.8,470.9L562.5,480.5L563.2,490.2L563.9,489.6L564.5,489.8L565.2,491.0L565.9,495.2L566.5,500.2L567.2,504.9L567.8,507.4L568.5,511.0L569.1,515.8L569.8,520.1L570.5,517.2L571.1,517.9L571.8,514.1L572.5,515.9L573.2,514.2L573.9,516.5L574.5,517.6L575.2,520.7L575.9,524.0L576.5,523.1L577.2,525.4L577.9,522.0L578.5,517.7L579.2,516.7L580.0,507.5L580.9,498.8L581.7,506.1L582.4,513.4L583.2,520.7L583.9,520.3L584.5,522.1L585.2,522.8L585.9,522.0L586.6,524.0L587.2,524.4L587.9,526.7L588.6,528.1M590.6,522.1L591.2,514.6L591.9,508.9L592.6,512.6L593.2,517.8L593.9,522.8L594.6,519.8L595.2,519.1L595.9,516.7L597.0,490.3L597.6,489.6L598.2,488.7L599.0,499.9L599.9,510.2L600.6,514.7L601.3,518.1L602.0,515.4L602.6,512.5L603.3,507.5L603.9,506.8L604.6,506.2L605.2,508.4L605.9,506.2L606.6,507.9L607.2,513.2L607.9,515.4L608.6,518.3L609.2,518.4L609.9,523.7L610.6,524.8L611.3,527.3L612.0,526.8L612.8,521.3L613.6,515.4L614.4,494.3L615.0,493.2L615.7,500.2L616.3,506.9L617.0,512.9L617.6,510.6L618.3,511.2L618.9,510.2L619.8,516.2L620.6,522.1L621.3,523.4L621.9,523.3L622.6,522.1M624.7,512.1L625.4,514.0L626.0,513.4L626.9,497.6L627.5,499.1L628.1,501.4L628.7,501.0L629.4,506.9L630.0,512.2L630.6,504.2L631.2,495.0L631.9,486.3L632.5,478.1L633.1,470.5L633.9,492.8L634.7,515.6L635.4,504.6L636.0,495.8L636.7,484.9L637.4,486.0L638.0,487.2L638.7,487.6L639.4,487.6L640.0,487.4L640.7,486.3L641.4,497.6L642.0,508.9L642.7,505.7L643.4,507.4L644.0,505.9L644.7,503.7L645.4,509.1L646.0,514.6L646.7,520.0L647.4,523.5L648.0,524.2L648.7,528.8L649.4,529.0L650.0,526.5L650.7,525.2L651.4,526.1L652.0,522.3L652.7,520.2L653.5,522.1L654.2,521.2L655.0,523.4L655.9,526.9L656.7,528.5L657.4,527.0L658.0,521.8L658.7,518.0L659.3,513.9L660.0,510.6L660.7,516.2L661.4,521.8L662.1,522.5L662.7,522.8L663.4,521.8L664.1,518.7L664.7,515.2L665.4,511.1L666.1,508.2L666.7,507.2L667.4,507.2L668.0,507.6L668.7,509.8M668.7,454.9L669.4,465.9L670.0,475.5L670.7,486.4L671.4,463.4L672.1,440.2L672.8,440.1L673.4,442.1L674.1,445.5L674.8,450.4L675.4,456.5L676.1,461.5L676.7,508.4L677.4,503.4L678.0,498.1L678.7,492.4L679.3,490.7L679.9,490.6L680.6,489.5L681.2,488.6L681.8,487.8L682.6,498.7L683.4,511.1L684.5,513.1M686.8,518.4L687.4,519.7L688.1,517.0L688.8,519.8L689.4,517.8L690.1,512.3L690.8,505.2L691.5,504.0L692.1,506.3L692.8,507.1L693.5,511.7L694.1,513.8L694.8,508.4L695.5,501.2L696.1,504.0L696.8,507.1M697.5,486.9L698.1,469.8L698.8,453.5L699.5,449.0L700.1,446.8L700.8,446.4L701.4,441.5L702.1,440.5L702.9,442.7L703.7,444.3L704.8,466.8L705.5,469.3L706.1,474.6L706.8,478.3L707.5,484.9L708.2,489.7L708.9,492.3L709.5,498.9L710.2,501.7L710.4,460.2L711.2,458.8L712.0,458.9L712.8,456.0L713.5,464.0L714.1,470.8L714.8,478.9L715.5,467.0L716.2,453.5L716.9,447.5L717.5,441.6L718.2,450.3L718.9,460.8L719.5,444.2L720.2,429.5L720.9,428.8L721.5,428.2L722.2,445.5L723.0,428.4L723.8,411.5L724.6,413.7L725.5,417.5L726.2,446.1L726.9,441.9L727.5,439.8L728.2,437.6L728.9,441.9L729.5,446.8L730.2,466.8L730.9,474.1L731.6,480.2L732.3,479.0L732.9,482.6L733.6,482.4L734.3,487.7L734.9,491.0L735.6,496.4L736.3,501.6L736.9,504.3L737.6,507.1L738.5,510.3L739.3,510.4L740.1,502.4L740.9,495.1L741.5,492.6L742.2,491.0L742.9,484.8L743.6,479.0L744.3,484.0L744.9,485.6L745.6,488.4L746.2,490.5L746.9,493.7L747.6,496.4L748.3,499.7L748.7,458.3L749.5,460.4L750.3,464.2L750.9,426.7L751.6,425.2L752.3,427.1L753.0,427.1L753.6,431.4L754.3,431.6L755.0,445.0L755.6,460.0L756.3,472.9L757.0,446.7L757.6,421.4L758.3,419.9L759.0,420.2L759.9,426.9L760.7,433.6L761.5,444.8L762.2,456.9L763.0,468.9L763.6,456.1L764.3,441.6L765.0,447.2L765.6,451.9L766.3,456.1L767.4,450.9L767.9,470.2L768.7,469.6L769.5,469.6L770.3,467.0L771.0,471.3L771.6,472.5L772.3,474.9L773.0,477.7L773.6,477.2L774.3,480.9L775.0,472.2L775.6,462.5L776.3,453.5L777.0,432.1L777.7,432.4L778.3,431.4L779.0,430.2L779.6,439.4L780.3,449.5L781.0,445.1L781.7,445.7L782.4,441.3L783.0,451.3L783.7,462.8L784.4,463.4L785.0,464.2L785.7,460.5L786.3,457.2L787.0,454.9L787.7,457.8L788.3,460.8L789.0,461.0L789.7,468.1L790.4,476.2L791.0,469.8L791.7,462.8L792.5,462.0L793.3,463.0L794.1,462.7L795.1,478.9L795.8,477.0L796.4,474.6L797.1,474.3L797.8,479.3L798.4,485.6L799.2,481.8L800.0,480.2L800.9,486.6L801.7,489.9L802.4,492.5L803.0,495.2L803.7,489.8L804.3,486.2L805.0,480.5L805.7,486.4L806.3,488.3L807.0,492.5L807.7,494.7L808.4,499.7L809.0,500.9L809.7,504.4L810.4,501.7L811.0,501.5L811.7,501.0L812.4,500.6L813.0,502.3L813.7,504.4L814.4,498.9L815.1,494.4L815.3,479.2L815.9,477.0L816.5,475.7L817.1,471.8L817.8,482.3L818.4,491.9L819.3,469.3L819.9,469.6L820.5,470.2L821.1,471.1L821.8,470.2L822.4,469.1L823.0,466.7L823.7,465.3L824.4,469.2L825.1,473.8L826.0,487.2L827.1,468.5L828.2,463.9L829.1,462.8L830.0,465.1L830.7,466.6L831.4,469.8L831.8,460.5L832.5,455.3L833.1,448.4L833.8,441.0L834.4,435.1L835.1,434.4L835.8,433.6L836.6,438.1L837.5,441.7L838.3,448.4L839.1,453.8L840.2,455.1L841.1,441.7L842.1,429.7L843.1,427.4L843.9,429.1L844.7,433.0L845.6,436.5L846.5,441.7L847.2,441.7L847.8,443.2L848.5,444.5L849.1,448.4L849.8,448.6L850.5,449.2L851.1,456.4L851.8,461.8L852.8,469.8L853.4,471.3L854.0,471.6L854.6,468.5L855.2,470.5L855.9,471.2L856.5,476.2L857.2,477.8L858.0,475.1L858.9,469.3L859.8,487.9L860.5,484.9L861.1,482.5L861.8,479.3L862.5,478.7L863.2,481.5L863.9,483.2L864.6,487.9L865.2,490.6L865.9,492.5L866.5,497.0L867.2,498.8L867.8,499.7L868.5,498.4L869.2,499.0L869.9,500.1L870.5,501.9L871.2,504.9L871.9,506.4L872.6,502.3L873.2,498.3L873.9,493.0L874.5,487.8L875.2,481.8L876.0,479.1L876.8,475.3L877.4,480.7L878.0,485.0L878.6,489.9L879.2,496.6L879.9,493.5L880.6,490.0L881.3,492.2L881.9,499.0L882.6,501.9L883.2,497.5L883.9,495.2L884.6,495.9L885.2,494.0L885.9,492.5L886.5,490.5L887.2,489.9L888.1,487.2L889.0,487.3L889.8,487.7L890.5,490.4L891.3,491.2L892.0,493.8L892.6,493.3L893.3,496.6L893.9,511.1L894.6,507.5L895.2,507.2L895.9,505.1L896.5,503.9L897.1,501.6L897.7,500.5L898.5,501.7L899.3,505.1L900.0,506.4L900.6,505.0L901.3,507.7L902.1,505.3L903.0,504.5L903.6,507.4L904.3,512.4L904.9,513.7L905.7,511.4L906.5,509.4L907.3,505.1L908.0,503.2L908.6,500.6L909.3,499.8L910.0,500.6L910.6,505.1L911.3,505.1L912.1,509.2L912.9,511.7L913.5,504.5L914.1,497.1L914.7,491.2L915.4,489.2L916.0,487.3L916.6,491.3L917.3,493.9L918.0,494.6L918.6,495.0L919.3,497.5L920.0,497.9L920.6,504.3L921.3,509.1L922.0,508.1L922.6,507.3L923.3,509.1L924.0,473.8L924.6,471.2L925.3,469.8L925.9,468.6L926.5,468.6L927.1,467.0L927.9,467.9L928.7,471.1L929.4,487.9L930.3,476.5L931.4,480.5L932.1,484.8L932.7,487.7L933.4,489.9L934.0,496.2L934.7,502.4L935.4,503.0L936.0,507.7L936.7,507.7L937.4,507.1L938.1,509.2L938.7,507.1L939.4,507.2L940.1,508.4L940.8,509.2L941.4,507.2L942.1,507.7L942.8,512.9L943.4,516.4L944.2,518.1L945.0,519.8L945.8,519.8L946.7,522.1L947.4,520.4L948.0,520.5L948.7,520.1L949.4,515.7L950.0,510.8L950.7,516.6L951.4,520.1L952.0,525.7L952.7,520.0L953.4,514.8L954.2,508.6L955.0,503.5L955.8,510.7L956.7,516.1L957.4,515.4L958.1,515.7L958.7,518.1L959.4,515.3L960.1,515.5L960.7,514.8L961.4,519.0L962.1,521.7L962.7,523.0L963.4,519.3L964.1,514.8L964.9,510.1L965.8,503.5L966.6,508.1L967.4,509.4L968.3,511.6L969.1,515.0L970.1,529.5L970.8,530.1L971.4,534.7L972.1,534.8L972.8,536.2L973.4,533.9L974.1,536.1L975.0,534.8L975.8,532.1L976.6,532.6L977.3,533.4L978.1,534.8L978.8,535.1L979.4,535.3L980.1,537.5L980.8,536.5L981.4,538.4L982.1,540.2L982.8,538.5L983.5,539.7L984.1,536.8L984.8,536.1L985.5,539.9L986.1,538.8L986.8,536.4L987.5,536.1L988.3,531.6L989.2,528.1L990.0,533.4L990.8,536.1L991.5,535.0L992.1,531.5L992.8,534.6L993.5,538.2L994.1,536.7L994.8,538.5L995.5,538.8L996.4,537.0L997.2,536.1L998.0,538.6L998.7,536.8L999.5,538.8L1000.2,537.0L1000.8,537.7L1001.5,534.8L1002.2,532.1L1002.8,532.7L1003.5,532.1L1004.3,526.4L1005.1,519.6L1006.0,522.9L1006.8,524.1L1007.5,524.4L1008.2,526.4L1008.9,530.1L1009.5,525.5L1010.2,524.1L1010.9,522.9L1011.5,517.5L1012.2,515.6L1012.9,517.6L1013.5,519.2L1014.2,518.8L1014.9,518.4L1015.5,518.4L1016.2,519.4L1016.9,523.6L1017.5,524.8L1018.2,526.8L1018.9,529.0L1019.5,533.9L1020.2,536.1L1020.9,536.3L1021.6,537.1L1022.2,538.8L1022.9,535.3L1023.6,535.5L1024.2,537.1L1024.9,538.4L1025.6,537.5L1026.2,539.0L1026.9,541.1L1027.6,540.4L1028.2,536.7L1028.9,535.7L1029.6,534.8L1030.2,526.1L1030.9,517.6L1031.6,519.5L1032.2,519.6L1032.9,518.1L1033.6,513.6L1034.2,509.6L1034.9,510.3L1035.6,512.8L1036.3,514.8L1037.1,509.5L1038.0,504.2L1038.8,510.4L1039.6,513.4L1040.3,515.0L1040.9,520.1L1041.6,521.7L1042.3,515.4L1042.9,508.2L1043.6,511.6L1044.3,513.6L1045.0,514.8L1045.6,506.3L1046.3,497.4L1047.0,494.2L1047.6,494.4L1048.3,495.2L1049.0,496.7L1049.6,506.1L1050.4,500.9L1051.2,496.2L1052.1,499.9L1053.0,501.4L1053.6,510.0L1054.3,520.1L1055.0,523.0L1055.6,528.1L1056.3,529.6L1057.0,528.2L1057.7,528.0L1058.3,530.1L1059.0,529.3L1059.7,532.1L1060.3,532.8L1061.0,532.8L1061.7,536.0L1062.3,534.8L1063.0,537.6L1063.7,539.3L1064.3,538.8L1065.0,539.3L1065.7,539.9L1066.3,542.8L1067.0,541.1L1067.7,542.4L1068.3,542.2L1069.0,542.7L1069.7,541.5L1070.3,541.5L1071.0,540.7L1071.7,541.6L1072.3,542.2L1073.0,543.3L1073.7,544.2L1074.4,544.2L1075.0,545.3L1075.7,545.8L1076.4,544.7L1077.0,544.9L1077.7,542.3L1078.4,544.6L1079.0,542.8L1079.7,540.5L1080.4,540.1L1081.0,538.3L1081.7,539.4L1082.4,541.5L1083.0,542.7L1083.7,541.0L1084.4,541.5L1085.0,542.8L1085.7,542.2L1086.4,543.5L1087.1,538.4L1087.7,535.9" fill="none" stroke="#8faadc" stroke-width="4" stroke-linejoin="round" stroke-linecap="round"/>
</g>
<line x1="336" x2="367" y1="110.95" y2="110.95" stroke="#002060" stroke-width="3.6" stroke-linecap="round"/>
<line x1="636.8" x2="667.7" y1="110.95" y2="110.95" stroke="#8faadc" stroke-width="3.6" stroke-linecap="round"/>
<line x1="1054.6" y1="269.3" x2="1074.2" y2="436" stroke="#4472c4" stroke-width="1"/>
<polygon points="1069.8,435.2 1078.8,434.1 1075.1,443.4" fill="#4472c4"/>
</svg>
<div id="txt" style="opacity:0.999">
<div class="yl" style="top:77.9px">95</div><div class="yl" style="top:133.4px">85</div><div class="yl" style="top:188.9px">75</div><div class="yl" style="top:244.4px">65</div><div class="yl" style="top:299.9px">55</div><div class="yl" style="top:355.4px">45</div><div class="yl" style="top:410.9px">35</div><div class="yl" style="top:466.4px">25</div><div class="yl" style="top:521.9px">15</div><div class="yl" style="top:577.4px">5</div>
<div class="xl" style="left:73.0px">30/11/2018</div><div class="xl" style="left:106.8px">31/01/2019</div><div class="xl" style="left:139.0px">31/03/2019</div><div class="xl" style="left:172.3px">31/05/2019</div><div class="xl" style="left:205.6px">31/07/2019</div><div class="xl" style="left:238.9px">30/09/2019</div><div class="xl" style="left:272.2px">30/11/2019</div><div class="xl" style="left:306.0px">31/01/2020</div><div class="xl" style="left:338.8px">31/03/2020</div><div class="xl" style="left:372.0px">31/05/2020</div><div class="xl" style="left:405.3px">31/07/2020</div><div class="xl" style="left:438.6px">30/09/2020</div><div class="xl" style="left:471.9px">30/11/2020</div><div class="xl" style="left:505.7px">31/01/2021</div><div class="xl" style="left:537.9px">31/03/2021</div><div class="xl" style="left:571.2px">31/05/2021</div><div class="xl" style="left:604.5px">31/07/2021</div><div class="xl" style="left:637.8px">30/09/2021</div><div class="xl" style="left:671.1px">30/11/2021</div><div class="xl" style="left:704.9px">31/01/2022</div><div class="xl" style="left:737.1px">31/03/2022</div><div class="xl" style="left:770.4px">31/05/2022</div><div class="xl" style="left:803.7px">31/07/2022</div><div class="xl" style="left:837.0px">30/09/2022</div><div class="xl" style="left:870.3px">30/11/2022</div><div class="xl" style="left:904.1px">31/01/2023</div><div class="xl" style="left:936.3px">31/03/2023</div><div class="xl" style="left:969.6px">31/05/2023</div><div class="xl" style="left:1002.9px">31/07/2023</div><div class="xl" style="left:1036.2px">30/09/2023</div><div class="xl" style="left:1069.4px">30/11/2023</div>
<div id="title"><span id="t1">VOLATILITY CRUSHED</span></div>
<div id="sub"><span id="t2">S&amp;P500 (VIX) and S&amp;P/ASX200VIX - 5-years to 3 Jan, 2024</span></div>
<div class="lg" style="left:370px"><span id="l1">AS51VIX Index (S&amp;P/ASX200)</span></div>
<div class="lg" style="left:671px"><span id="l2" style="transform:scaleX(1.013)">VIX Index (S&amp;P500)</span></div>
<div id="box"><span id="b1">Volatility for both US and</span><br><span id="b2">Australian Indexes now close</span><br><span id="b3">to lowest in 5 years</span></div>
</div>
</body></html>
